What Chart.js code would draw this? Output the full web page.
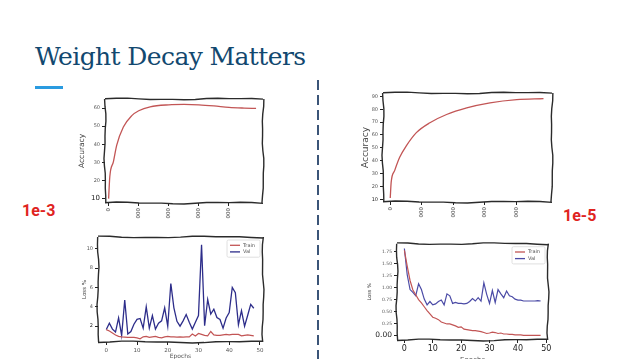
<!DOCTYPE html>
<html>
<head>
<meta charset="utf-8">
<script src="https://cdn.jsdelivr.net/npm/chart.js@4.4.1/dist/chart.umd.min.js"></script>
<style>
body { margin: 0; width: 638px; height: 359px; overflow: hidden; background: #fff; position: relative; }
h1 { position: absolute; left: 35px; top: 42px; margin: 0; font: 400 25px 'DejaVu Serif', serif; color: #12486f; letter-spacing: -0.6px; }
.rule { position: absolute; left: 35px; top: 86px; width: 28px; height: 3px; background: #2a9be0; }
.divider { position: absolute; left: 317px; top: 80px; width: 2px; height: 279px;
  background: repeating-linear-gradient(to bottom, #3b5578 0 10px, transparent 10px 15px); }
.wd { position: absolute; font: 700 16px 'Roboto', sans-serif; color: #e0241f; }
canvas { position: absolute; }
</style>
</head>
<body>
<h1>Weight Decay Matters</h1>
<div class="rule"></div>
<div class="divider"></div>
<div class="wd" style="left:22px; top:201px">1e-3</div>
<div class="wd" style="left:563px; top:206px">1e-5</div>

<canvas id="accA" width="191" height="136" style="left:78px; top:94px"></canvas>
<canvas id="accB" width="198" height="141" style="left:360px; top:88px"></canvas>
<canvas id="lossA" width="188" height="128" style="left:81px; top:232px"></canvas>
<canvas id="lossB" width="187" height="125" style="left:367px; top:239px"></canvas>

<script>
// accuracy plots: x in tick units (labels are cut off in the source)
const accTickLabels = ['0', '000', '000', '000', '000'];
const accTicks = [0, 1, 2, 3, 4];
const accStepsA = [0, 0.04, 0.16, 0.27, 0.49, 0.77, 1.0, 1.38, 2.0, 2.5, 3.0, 3.5, 4.0, 4.5, 4.9];
const accA = [10, 22.2, 30.4, 39.5, 49.5, 55.8, 58.5, 60.7, 61.8, 62.0, 61.8, 61.2, 60.4, 60.0, 59.8];
const accStepsB = [0, 0.03, 0.14, 0.3, 0.51, 0.83, 1.26, 1.79, 2.43, 3.17, 4.02, 4.87];
const accB = [11, 23.3, 32.3, 42.6, 51.5, 61.8, 69.5, 75.9, 81, 84.9, 87.4, 88.2];

// loss plots
const epochs = [0,1,2,3,4,5,6,7,8,9,10,11,12,13,14,15,16,17,18,19,20,21,22,23,24,
  25,26,27,28,29,30,31,32,33,34,35,36,37,38,39,40,41,42,43,44,45,46,47,48];
const trainLossA = [1.65,1.5,1.3,1.1,0.95,0.9,0.88,0.85,0.85,0.85,0.8,0.7,0.9,0.95,0.85,
  0.9,0.95,0.85,0.8,0.9,0.95,0.9,0.9,0.88,0.9,0.88,0.9,0.9,1.2,1.0,1.25,1.15,1.05,1.0,1.45,
  1.1,1.05,1.05,1.1,1.15,1.1,1.15,1.15,1.15,1.0,1.05,1.1,1.05,1.0];
const valLossA = [1.65,2.3,1.7,1.4,2.85,1.05,4.7,1.2,1.45,2.2,2.7,2.8,1.8,4.0,1.8,3.1,1.7,
  2.3,2.55,3.9,2.0,6.4,3.9,2.5,2.0,2.55,3.2,2.4,1.7,2.4,3.1,10.4,2.05,4.75,3.25,3.75,2.9,
  2.7,1.8,2.85,3.4,6.0,5.45,2.15,3.6,2.0,3.1,4.25,3.85];
const trainLossB = [1.78,1.45,1.15,0.95,0.85,0.75,0.68,0.6,0.52,0.45,0.38,0.36,0.33,0.28,
  0.26,0.24,0.24,0.22,0.2,0.17,0.18,0.13,0.12,0.11,0.1,0.1,0.09,0.08,0.06,0.04,0.05,0.07,
  0.06,0.04,0.05,0.03,0.03,0.02,0.02,0.01,0.01,0.01,0,0,0,0,0,0,0];
const valLossB = [1.82,1.27,0.96,0.9,0.83,1.08,0.96,0.76,0.64,0.71,0.64,0.66,0.71,0.74,0.64,
  0.87,0.83,0.67,0.69,0.67,0.67,0.66,0.67,0.71,0.77,0.72,0.79,0.72,1.1,0.86,0.67,0.94,0.69,
  0.96,0.87,0.79,0.93,0.83,0.81,0.76,0.74,0.74,0.72,0.72,0.72,0.72,0.72,0.73,0.72];
const epochTicks = [0, 10, 20, 30, 40, 50];
const accYTicksA = [10, 20, 30, 40, 50, 60];
const accYTicksB = [10, 20, 30, 40, 50, 60, 70, 80, 90];
const lossYTicksA = [2, 4, 6, 8, 10];
const lossYTicksB = [0, 0.25, 0.5, 0.75, 1.0, 1.25, 1.5, 1.75];

const RED = '#c25555';

function points(xs, ys) { return xs.map((x, i) => ({ x: x, y: ys[i] })); }

// hand-drawn looking frame around the plot area
const sketchFrame = {
  id: 'sketchFrame',
  afterDatasetsDraw(chart) {
    const a = chart.chartArea, ctx = chart.ctx;
    const seed = chart.canvas.id.length;
    function side(x0, y0, x1, y1, s) {
      const n = 14, dx = x1 - x0, dy = y1 - y0, len = Math.hypot(dx, dy);
      const nx = -dy / len, ny = dx / len;
      for (let i = 0; i <= n; i++) {
        const t = i / n;
        const o = 0.7 * Math.sin(t * 9 + s) + 0.35 * Math.sin(t * 23 + s * 2);
        const x = x0 + dx * t + nx * o, y = y0 + dy * t + ny * o;
        if (i === 0) ctx.moveTo(x, y); else ctx.lineTo(x, y);
      }
    }
    ctx.save();
    ctx.strokeStyle = '#2b2b2b';
    ctx.lineWidth = 1.4;
    ctx.lineJoin = 'round';
    ctx.beginPath(); side(a.left, a.top, a.right, a.top, seed); ctx.stroke();
    ctx.beginPath(); side(a.right, a.top, a.right, a.bottom, seed + 1); ctx.stroke();
    ctx.beginPath(); side(a.right, a.bottom, a.left, a.bottom, seed + 2); ctx.stroke();
    ctx.beginPath(); side(a.left, a.bottom, a.left, a.top, seed + 3); ctx.stroke();
    ctx.restore();
  }
};

// small legend box in the upper right of the plot area
const cornerLegend = {
  id: 'cornerLegend',
  afterDraw(chart, args, opts) {
    if (!opts.show) return;
    const a = chart.chartArea, ctx = chart.ctx;
    const sets = chart.data.datasets;
    const w = 33, rowH = 6.6, h = sets.length * rowH + 4;
    const x = a.right - w - 3, y = a.top + 3;
    ctx.save();
    ctx.fillStyle = 'rgba(255,255,255,0.9)';
    ctx.strokeStyle = '#d8d8d8';
    ctx.lineWidth = 0.8;
    ctx.beginPath();
    ctx.roundRect(x, y, w, h, 1.5);
    ctx.fill(); ctx.stroke();
    ctx.font = '5px "DejaVu Sans"';
    ctx.textBaseline = 'middle';
    sets.forEach((ds, i) => {
      const cy = y + 2 + rowH * (i + 0.5);
      ctx.strokeStyle = ds.borderColor;
      ctx.lineWidth = 1.3;
      ctx.beginPath(); ctx.moveTo(x + 3, cy); ctx.lineTo(x + 13, cy); ctx.stroke();
      ctx.fillStyle = '#555';
      ctx.fillText(ds.label, x + 16, cy);
    });
    ctx.restore();
  }
};

function makeChart(id, cfg) {
  return new Chart(document.getElementById(id), {
    type: 'line',
    data: { datasets: cfg.datasets },
    options: {
      responsive: false,
      animation: false,
      layout: { padding: { top: cfg.padTop, right: cfg.padRight, left: 0, bottom: 0 } },
      plugins: {
        legend: { display: false },
        tooltip: { enabled: false },
        cornerLegend: { show: cfg.legend }
      },
      elements: { point: { radius: 0 } },
      scales: {
        x: {
          type: 'linear',
          min: cfg.xMin, max: cfg.xMax,
          afterBuildTicks: s => { s.ticks = cfg.xTicks.map(v => ({ value: v })); },
          afterFit: s => { s.height = cfg.xHeight; },
          border: { display: false },
          grid: { drawOnChartArea: false, drawTicks: true, tickLength: 3, color: '#222', lineWidth: 1 },
          ticks: {
            autoSkip: false,
            padding: cfg.xTickPad,
            minRotation: cfg.xRotate, maxRotation: cfg.xRotate,
            color: cfg.xTickColor,
            font: { size: cfg.xTickSize, family: 'DejaVu Sans' },
            callback: cfg.xLabel
          },
          title: cfg.xTitle ? { display: true, text: cfg.xTitle, color: '#555', padding: 0,
            font: { size: cfg.xTitleSize, family: 'DejaVu Sans' } } : { display: false }
        },
        y: {
          min: cfg.yMin, max: cfg.yMax,
          afterBuildTicks: s => { s.ticks = cfg.yTicks.map(v => ({ value: v })); },
          afterFit: s => { s.width = cfg.yWidth; },
          border: { display: false },
          grid: { drawOnChartArea: false, drawTicks: true, tickLength: 3, color: '#222', lineWidth: 1 },
          ticks: {
            padding: 2,
            color: c => c.index === 0 ? '#222' : '#555',
            font: c => ({ size: c.index === 0 ? cfg.yFirstSize : cfg.yTickSize, family: 'DejaVu Sans' }),
            callback: cfg.yLabel
          },
          title: { display: true, text: cfg.yTitle, color: '#444', padding: 0,
            font: { size: cfg.yTitleSize, family: 'DejaVu Sans' } }
        }
      }
    },
    plugins: [sketchFrame, cornerLegend]
  });
}

const accXLabel = v => accTickLabels[accTicks.indexOf(v)];

makeChart('accA', {
  datasets: [{ label: 'Accuracy', data: points(accStepsA, accA), borderColor: RED,
    borderWidth: 1.3, cubicInterpolationMode: 'monotone' }],
  xMin: -0.12, xMax: 5.13, yMin: 7.6, yMax: 65,
  xTicks: accTicks, yTicks: accYTicksA, xLabel: accXLabel, yLabel: v => v,
  xRotate: 90, xTickSize: 5.5, xTickColor: '#555', xTickPad: 2, xHeight: 27,
  yWidth: 27, yTickSize: 5, yFirstSize: 7, yTitle: 'Accuracy', yTitleSize: 7.5,
  padTop: 4, padRight: 6, legend: false
});

makeChart('accB', {
  datasets: [{ label: 'Accuracy', data: points(accStepsB, accB), borderColor: RED,
    borderWidth: 1.3, cubicInterpolationMode: 'monotone' }],
  xMin: -0.23, xMax: 5.14, yMin: 7.9, yMax: 92.6,
  xTicks: accTicks, yTicks: accYTicksB, xLabel: accXLabel, yLabel: v => v,
  xRotate: 90, xTickSize: 5.5, xTickColor: '#555', xTickPad: 2, xHeight: 27,
  yWidth: 23, yTickSize: 5, yFirstSize: 5, yTitle: 'Accuracy', yTitleSize: 9,
  padTop: 4, padRight: 6, legend: false
});

makeChart('lossA', {
  datasets: [
    { label: 'Train', data: points(epochs, trainLossA), borderColor: RED, borderWidth: 1.2 },
    { label: 'Val', data: points(epochs, valLossA), borderColor: '#2d2d8a', borderWidth: 1.3 }
  ],
  xMin: -2.7, xMax: 51, yMin: 0.37, yMax: 11.2,
  xTicks: epochTicks, yTicks: lossYTicksA, xLabel: v => v, yLabel: v => v,
  xRotate: 0, xTickSize: 5.5, xTickColor: '#555', xTickPad: 2, xHeight: 18,
  xTitle: 'Epochs', xTitleSize: 6,
  yWidth: 17, yTickSize: 5, yFirstSize: 5, yTitle: 'Loss %', yTitleSize: 5.5,
  padTop: 3, padRight: 6, legend: true
});

makeChart('lossB', {
  datasets: [
    { label: 'Train', data: points(epochs, trainLossB), borderColor: RED, borderWidth: 1.2 },
    { label: 'Val', data: points(epochs, valLossB), borderColor: '#4b4ba6', borderWidth: 1.2 }
  ],
  xMin: -2.6, xMax: 50.6, yMin: -0.096, yMax: 1.92,
  xTicks: epochTicks, yTicks: lossYTicksB, xLabel: v => v, yLabel: v => v.toFixed(2),
  xRotate: 0, xTickSize: 8, xTickColor: '#222', xTickPad: 1, xHeight: 24,
  xTitle: 'Epochs', xTitleSize: 7,
  yWidth: 30, yTickSize: 4.5, yFirstSize: 7.5, yTitle: 'Loss %', yTitleSize: 5,
  padTop: 3, padRight: 6, legend: true
});
</script>
</body>
</html>
